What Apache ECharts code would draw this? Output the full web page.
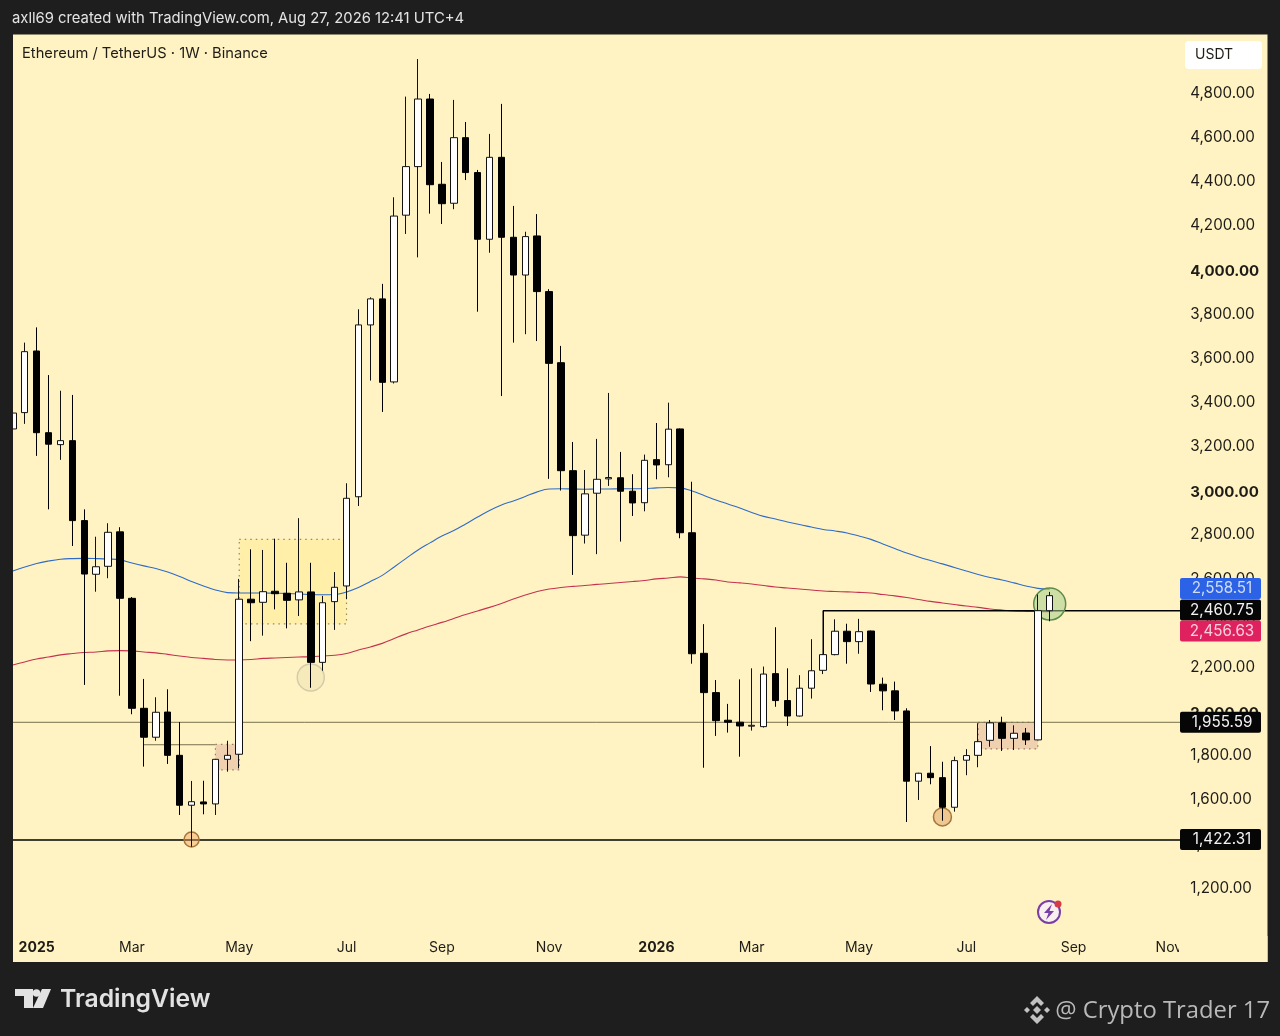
<!DOCTYPE html>
<html>
<head>
<meta charset="utf-8">
<title>Ethereum / TetherUS</title>
<style>html,body{margin:0;padding:0;background:#1e1e1e}#chart{width:1280px;height:1036px}</style>
<script src="https://cdn.jsdelivr.net/npm/echarts@6/dist/echarts.min.js"></script>
</head>
<body>
<div id="chart"></div>
<script>
const categories = ["2024-12-23","2024-12-30","2025-01-06","2025-01-13","2025-01-20","2025-01-27","2025-02-03","2025-02-10","2025-02-17","2025-02-24","2025-03-03","2025-03-10","2025-03-17","2025-03-24","2025-03-31","2025-04-07","2025-04-14","2025-04-21","2025-04-28","2025-05-05","2025-05-12","2025-05-19","2025-05-26","2025-06-02","2025-06-09","2025-06-16","2025-06-23","2025-06-30","2025-07-07","2025-07-14","2025-07-21","2025-07-28","2025-08-04","2025-08-11","2025-08-18","2025-08-25","2025-09-01","2025-09-08","2025-09-15","2025-09-22","2025-09-29","2025-10-06","2025-10-13","2025-10-20","2025-10-27","2025-11-03","2025-11-10","2025-11-17","2025-11-24","2025-12-01","2025-12-08","2025-12-15","2025-12-22","2025-12-29","2026-01-05","2026-01-12","2026-01-19","2026-01-26","2026-02-02","2026-02-09","2026-02-16","2026-02-23","2026-03-02","2026-03-09","2026-03-16","2026-03-23","2026-03-30","2026-04-06","2026-04-13","2026-04-20","2026-04-27","2026-05-04","2026-05-11","2026-05-18","2026-05-25","2026-06-01","2026-06-08","2026-06-15","2026-06-22","2026-06-29","2026-07-06","2026-07-13","2026-07-20","2026-07-27","2026-08-03","2026-08-10","2026-08-17","2026-08-24","2026-08-31","2026-09-07","2026-09-14","2026-09-21","2026-09-28","2026-10-05","2026-10-12","2026-10-19","2026-10-26","2026-11-02","2026-11-09"];
const opens = [3284,3358,3637,3267,3213,3231,2869,2626,2662,2818,2517,2019,1888,2002,1806,1580,1595,1586,1788,1811,2513,2499,2549,2540,2510,2546,2227,2502,2573,2977,3755,3873,3497,4252,4472,4778,4392,4306,4603,4445,4143,4514,4152,3981,4158,3906,3584,3095,2803,2993,3058,3063,3002,2950,3145,3122,3284,2814,2268,2090,1965,1956,1938,1936,2176,2054,1984,2110,2191,2262,2368,2321,2369,2128,2098,2007,1689,1725,1705,1571,1784,1806,1874,1953,1883,1907,1876,2461];
const closes = [3356,3634,3267,3215,3231,2869,2627,2660,2816,2517,2019,1888,2001,1806,1580,1596,1586,1788,1806,2513,2497,2547,2538,2508,2546,2227,2497,2567,2970,3755,3873,3495,4248,4472,4778,4390,4304,4603,4445,4143,4514,4152,3981,4155,3906,3581,3095,2801,2990,3056,3064,3002,2949,3142,3121,3283,2814,2266,2090,1963,1956,1939,1942,2174,2054,1984,2110,2189,2262,2368,2321,2366,2129,2098,2007,1689,1725,1705,1571,1782,1805,1868,1953,1883,1906,1876,2461,2529];
const lows = [3221,3307,3162,2920,3144,2754,2125,2547,2608,2076,1992,1755,1872,1767,1536,1392,1539,1536,1732,1747,2323,2348,2467,2381,2437,2112,2189,2374,2513,2935,3503,3361,3490,4167,4061,4259,4212,4279,4411,3815,4082,3433,3675,3713,3682,3058,3005,2623,2765,2717,3026,2774,2890,2911,3056,3065,2789,2221,1750,1894,1909,1800,1918,1932,2026,1939,1982,2063,2174,2259,2221,2266,2093,2010,1966,1504,1604,1675,1510,1551,1716,1752,1845,1826,1830,1853,1876,2413];
const highs = [3551,3675,3744,3528,3457,3438,2920,2796,2857,2839,2523,2152,2069,2105,1957,1690,1691,1790,1872,2605,2739,2736,2787,2678,2880,2678,2528,2636,3038,3826,3880,3941,4333,4789,4959,4801,4493,4774,4674,4457,4620,4756,4294,4177,4257,3917,3660,3225,3098,3239,3447,3180,3079,3168,3311,3403,3286,3045,2400,2147,2039,2150,2200,2208,2386,2200,2169,2332,2265,2422,2402,2424,2371,2158,2140,2019,1727,1848,1777,1800,1834,1951,1966,1981,1942,1930,2534,2546];
const maBlue = [2641,2659,2675,2686,2694,2697,2698,2697,2695,2691,2677,2664,2652,2636,2616,2593,2573,2555,2543,2541,2541,2541,2540,2539,2537,2534,2533,2534,2546,2566,2593,2621,2659,2698,2736,2768,2799,2824,2854,2885,2915,2940,2958,2978,2999,3012,3013,3012,3011,3012,3012,3013,3013,3014,3017,3019,3017,3003,2983,2962,2944,2926,2906,2888,2876,2863,2851,2840,2829,2822,2813,2799,2784,2763,2743,2722,2704,2688,2673,2657,2641,2625,2611,2600,2587,2573,2562,2558.51];
const maRed = [2215,2229,2242,2251,2261,2267,2272,2274,2279,2280,2279,2274,2270,2263,2256,2249,2245,2240,2238,2238,2240,2245,2247,2249,2251,2253,2256,2259,2267,2283,2297,2313,2335,2356,2374,2392,2408,2426,2444,2460,2476,2494,2514,2532,2548,2559,2566,2571,2575,2580,2584,2589,2593,2598,2605,2609,2614,2609,2605,2600,2591,2587,2582,2575,2568,2564,2559,2555,2550,2548,2546,2544,2541,2534,2528,2521,2512,2503,2496,2489,2482,2476,2469,2464,2460,2458,2457,2456.63];
const tickDates = ["2025-01-06","2025-03-03","2025-05-05","2025-07-07","2025-09-01","2025-11-03","2026-01-05","2026-03-02","2026-05-04","2026-07-06","2026-09-07","2026-11-02"];
const tickTexts = ["2025","Mar","May","Jul","Sep","Nov","2026","Mar","May","Jul","Sep","Nov"];
const boldPrices = [2000,3000,4000];
const hiddenPrices = [1000,5000];
const levelSupport = 1422.31;
const levelMid = 1955.59;
const levelTop = 2460.75;
const rayStartDate = "2026-04-13";
const rayFoot = 2262;
const lastAxisDate = "2026-11-09";
const firstAxisDate = "2024-12-23";
const shortRay = [["2025-03-10",1854],["2025-04-21",1854]];
const circleDates = ["2025-06-16","2025-04-07","2026-06-22","2026-08-24"];
const circlePrices = [2159,1425,1527,2491];
const circleSizes = [27,15,18,32];
const circleFills = ["rgba(205,195,150,0.18)","rgba(238,165,95,0.45)","rgba(236,190,135,0.85)","rgba(165,205,140,0.55)"];
const circleEdges = ["#d3cbaa","#a5763a","#a5763a","#5f8a4e"];
const zoneYellow = [["2025-05-05",2784],["2025-07-07",2401]];
const zonePinkA = [["2025-04-21",1856],["2025-05-05",1740]];
const zonePinkB = [["2026-07-13",1955.59],["2026-08-17",1835]];

const candles = opens.map((o,i)=>[o,closes[i],lows[i],highs[i]]);
const tickMap = {};
tickDates.forEach((d,i)=>{tickMap[d]=tickTexts[i];});
const PANEL = "#fff3c3", DARK = "#1e1e1e", FONT = "Inter, 'Noto Sans', sans-serif", INK = "#1d1c17";

function tag(y, text, bg, fg){
  return [
    {type:'rect',z:60,shape:{x:1180,y:y-10.5,width:81,height:21,r:2},style:{fill:bg}},
    {type:'text',z:61,style:{x:1222,y:y,text:text,fill:fg,font:"15.2px "+FONT,textAlign:'center',textVerticalAlign:'middle'}}
  ];
}
const chrome = [
  {type:'rect',z:-10,shape:{x:13,y:34.5,width:1254.5,height:927.5},style:{fill:PANEL}},
  {type:'rect',z:50,shape:{x:1179,y:936,width:88.5,height:26},style:{fill:PANEL}},
  {type:'rect',z:50,shape:{x:0,y:34,width:13,height:928},style:{fill:DARK}},
  {type:'text',z:60,style:{x:12,y:19,text:"axll69 created with TradingView.com, Aug 27, 2026 12:41 UTC+4",fill:"#e4e4e4",font:"14.8px "+FONT,textVerticalAlign:'middle'}},
  {type:'text',z:60,style:{x:22,y:53.5,text:"Ethereum / TetherUS · 1W · Binance",fill:INK,font:"14.7px "+FONT,textVerticalAlign:'middle'}},
  {type:'rect',z:60,shape:{x:1185,y:41,width:77,height:28,r:4},style:{fill:"#ffffff"}},
  {type:'text',z:61,style:{x:1195,y:55,text:"USDT",fill:INK,font:"14px "+FONT,textVerticalAlign:'middle'}},
  ...tag(588.5,"2,558.51","#2c62e6","#cfdcf8"),
  ...tag(610,"2,460.75","#060606","#f2f2f2"),
  ...tag(631,"2,456.63","#e0215f","#f9cfdd"),
  ...tag(722.3,"1,955.59","#060606","#f2f2f2"),
  ...tag(839.5,"1,422.31","#060606","#f2f2f2"),
  {type:'circle',z:60,shape:{cx:1049,cy:912,r:11},style:{fill:"#f8f0ee",stroke:"#7a3fa6",lineWidth:2}},
  {type:'polygon',z:61,shape:{points:[[1052,904],[1044,913],[1048.5,913],[1046,920],[1054,911],[1049.5,911]]},style:{fill:"#7a3fa6"}},
  {type:'circle',z:62,shape:{cx:1058,cy:904,r:3.5},style:{fill:"#d43c48"}},
  {type:'polygon',z:60,shape:{points:[[15,989],[33,989],[33,1008],[24,1008],[24,996],[15,996]]},style:{fill:"#e2e2e2"}},
  {type:'circle',z:60,shape:{cx:36.5,cy:993,r:3.8},style:{fill:"#e2e2e2"}},
  {type:'polygon',z:60,shape:{points:[[42,989],[51,989],[43,1008],[33,1008]]},style:{fill:"#e2e2e2"}},
  {type:'text',z:60,style:{x:60,y:1000,text:"TradingView",fill:"#e2e2e2",font:"600 24.7px "+FONT,textVerticalAlign:'middle'}},
  {type:'polygon',z:60,shape:{points:[[1037,996],[1044,1003],[1041,1006],[1037,1002],[1033,1006],[1030,1003]]},style:{fill:"#c2c2c2"}},
  {type:'polygon',z:60,shape:{points:[[1037,1024],[1044,1017],[1041,1014],[1037,1018],[1033,1014],[1030,1017]]},style:{fill:"#c2c2c2"}},
  {type:'polygon',z:60,shape:{points:[[1037,1006],[1041,1010],[1037,1014],[1033,1010]]},style:{fill:"#c2c2c2"}},
  {type:'polygon',z:60,shape:{points:[[1027,1007],[1030,1010],[1027,1013],[1024,1010]]},style:{fill:"#c2c2c2"}},
  {type:'polygon',z:60,shape:{points:[[1047,1007],[1050,1010],[1047,1013],[1044,1010]]},style:{fill:"#c2c2c2"}},
  {type:'text',z:60,style:{x:1270,y:1011.5,text:"@ Crypto Trader 17",fill:"#b9b9b9",font:"23.8px 'Open Sans', sans-serif",textAlign:'right',textVerticalAlign:'middle'}}
];

const hline = (name,data,color,width,smooth)=>({name,type:'line',data,symbol:'none',z:2,silent:true,smooth:smooth||false,lineStyle:{color,width},animation:false});
const zoneStyle = (fill,edge)=>({color:fill,borderColor:edge,borderWidth:1.2,borderType:[1.5,4]});

const option = {
  animation:false,
  backgroundColor:DARK,
  graphic:{elements:chrome},
  grid:{left:12.8,right:99.2,top:50,bottom:102.67,containLabel:false,show:false},
  xAxis:{
    type:'category',data:categories,boundaryGap:false,
    axisLine:{show:false},axisTick:{show:false},splitLine:{show:false},
    axisLabel:{
      interval:(i,v)=>tickMap[v]!==undefined,
      margin:7,hideOverlap:false,
      fontFamily:FONT,fontSize:14,color:INK,
      formatter:v=>{const t=tickMap[v]||"";return /^\d+$/.test(t)?"{b|"+t+"}":t;},
      rich:{b:{fontFamily:FONT,fontSize:14,fontWeight:700,color:INK}}
    }
  },
  yAxis:{
    type:'value',position:'right',min:1000,max:5000,interval:200,scale:false,
    axisLine:{show:false},axisTick:{show:false},splitLine:{show:false},
    axisLabel:{
      margin:9.4,align:'left',fontFamily:FONT,fontSize:15.2,color:INK,padding:[0,0,2,0],
      formatter:v=>{
        if(hiddenPrices.includes(v))return "";
        const t=v.toLocaleString('en-US',{minimumFractionDigits:2,maximumFractionDigits:2});
        return boldPrices.includes(v)?"{b|"+t+"}":t;
      },
      rich:{b:{fontFamily:FONT,fontSize:15,fontWeight:700,color:INK,padding:[3,0,0,0]}}
    }
  },
  series:[
    {
      name:'Zones',type:'line',data:[],z:1,
      markArea:{silent:true,data:[
        [{xAxis:zoneYellow[0][0],yAxis:zoneYellow[0][1],itemStyle:zoneStyle("rgba(255,233,125,0.38)","#9a8a55")},{xAxis:zoneYellow[1][0],yAxis:zoneYellow[1][1]}],
        [{xAxis:zonePinkA[0][0],yAxis:zonePinkA[0][1],itemStyle:zoneStyle("rgba(214,150,140,0.36)","#9a7a6a")},{xAxis:zonePinkA[1][0],yAxis:zonePinkA[1][1]}],
        [{xAxis:zonePinkB[0][0],yAxis:zonePinkB[0][1],itemStyle:zoneStyle("rgba(214,150,140,0.36)","#9a7a6a")},{xAxis:zonePinkB[1][0],yAxis:zonePinkB[1][1]}]
      ]}
    },
    {
      name:'Circles',type:'scatter',z:2,silent:true,
      data:circleDates.map((d,i)=>({value:[d,circlePrices[i]],symbolSize:circleSizes[i],itemStyle:{color:circleFills[i],borderColor:circleEdges[i],borderWidth:1.5,opacity:1}}))
    },
    hline('MA blue',maBlue,"#2f6cc6",1.1,0.4),
    hline('MA red',maRed,"#c4324f",1.1,0.4),
    hline('Support',[[firstAxisDate,levelSupport],[lastAxisDate,levelSupport]],"#000000",1.5),
    hline('Mid level',[[firstAxisDate,levelMid],[lastAxisDate,levelMid]],"#77714f",1),
    hline('Ray',[[rayStartDate,rayFoot],[rayStartDate,levelTop],[lastAxisDate,levelTop]],"#000000",1.5),
    hline('Short ray',shortRay,"#77714f",1),
    {
      name:'ETHUSDT',type:'candlestick',data:candles,z:3,barWidth:7,silent:true,
      itemStyle:{color:"#ffffff",color0:"#000000",borderColor:"#111111",borderColor0:"#000000",borderWidth:1}
    }
  ]
};
const chart = echarts.init(document.getElementById('chart'),null,{width:1280,height:1036,renderer:'canvas'});
chart.setOption(option);
</script>
</body>
</html>
